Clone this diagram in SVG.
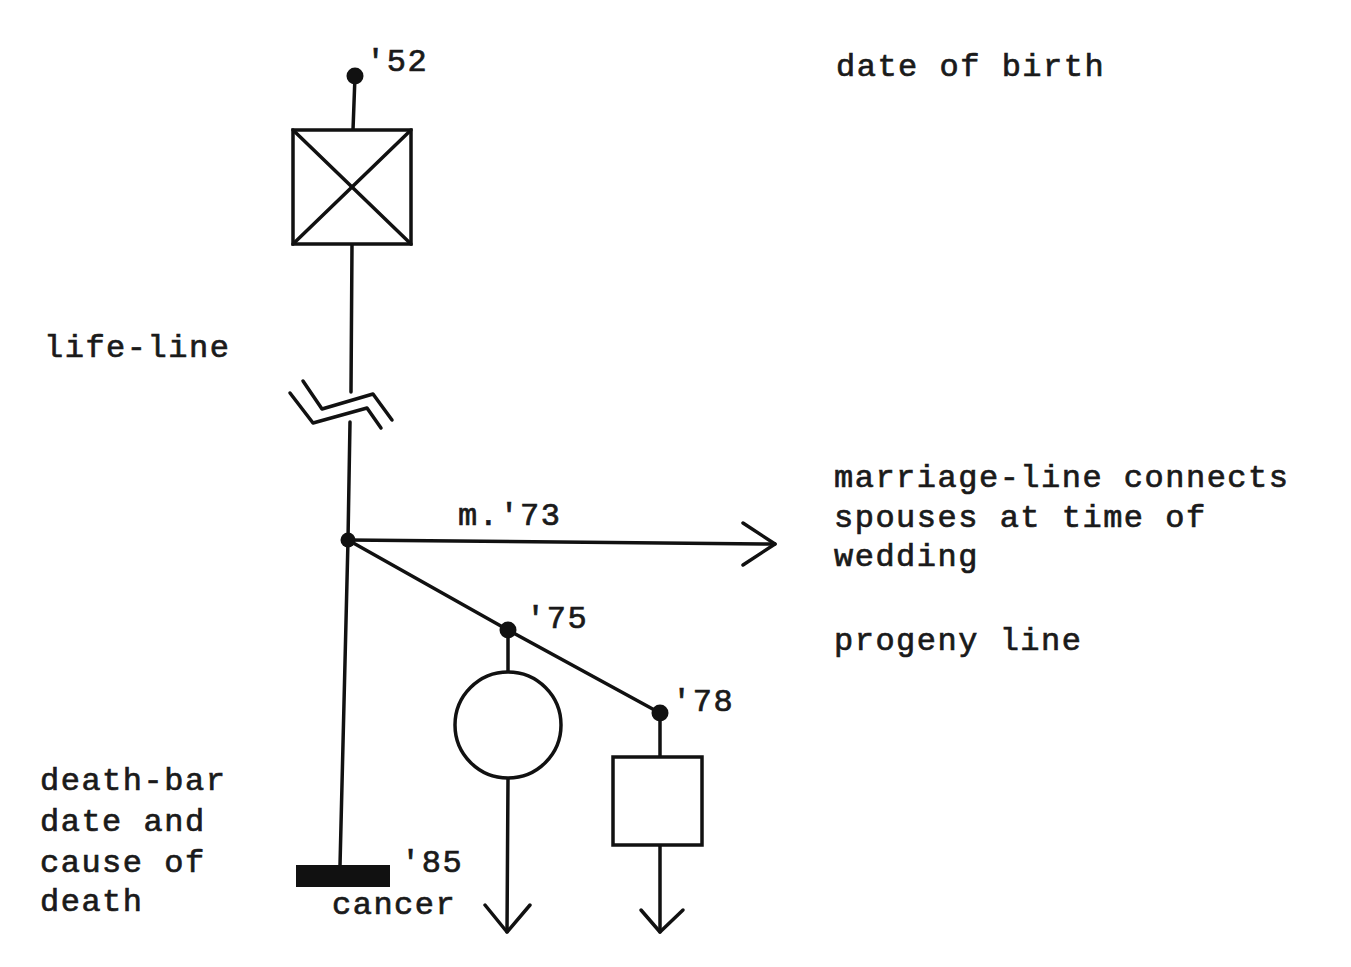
<svg xmlns="http://www.w3.org/2000/svg" width="1351" height="967" viewBox="0 0 1351 967">
<style>
.ln{stroke:#111;stroke-width:3.5;fill:none;stroke-linecap:round;stroke-linejoin:round}
.sh{stroke:#111;stroke-width:3.5;fill:#fff}
.dot{fill:#111}
text{font-family:"Liberation Mono","DejaVu Sans Mono",monospace;font-size:32px;fill:#1a1a1a;stroke:#1a1a1a;stroke-width:0.7px;letter-spacing:1.5px}
</style>
<rect width="1351" height="967" fill="#fff"/>
<g id="connectors">
  <line class="ln" x1="355" y1="76" x2="353" y2="130"/>
  <polyline class="ln" points="352,244 351,392"/>
  <polyline class="ln" points="350,422 348,540 340,866"/>
  <line class="ln" x1="348" y1="540" x2="775" y2="544"/>
  <polyline class="ln" points="743,523 775,544 743,565"/>
  <polyline class="ln" points="348,540 508,630 660,713"/>
  <line class="ln" x1="508" y1="630" x2="508" y2="672"/>
  <line class="ln" x1="508" y1="778" x2="507" y2="932"/>
  <polyline class="ln" points="485,905 507,932 530,905"/>
  <line class="ln" x1="660" y1="713" x2="660" y2="757"/>
  <line class="ln" x1="660" y1="845" x2="660" y2="932"/>
  <polyline class="ln" points="641,910 660,932 683,910"/>
</g>
<g id="break-symbol">
  <polyline class="ln" points="303,381 322,409 373,394 392,420"/>
  <polyline class="ln" points="290,393 313,423 367,408 381,428"/>
</g>
<g id="birth">
  <circle class="dot" cx="355" cy="76" r="8.5"/>
  <text x="366" y="71">'52</text>
</g>
<g id="deceased-male">
  <rect class="sh" x="293" y="130" width="118" height="114"/>
  <line class="ln" x1="293" y1="130" x2="411" y2="244"/>
  <line class="ln" x1="411" y1="130" x2="293" y2="244"/>
</g>
<g id="marriage">
  <circle class="dot" cx="348" cy="540" r="7.5"/>
  <text x="458" y="525">m.'73</text>
</g>
<g id="child-1975">
  <circle class="dot" cx="508" cy="630" r="8.5"/>
  <text x="526" y="628">'75</text>
  <circle class="sh" cx="508" cy="725" r="53"/>
</g>
<g id="child-1978">
  <circle class="dot" cx="660" cy="713" r="8.5"/>
  <text x="672" y="711">'78</text>
  <rect class="sh" x="613" y="757" width="89" height="88"/>
</g>
<g id="death">
  <rect class="dot" x="296" y="865" width="94" height="22"/>
  <text x="401" y="872">'85</text>
  <text x="332" y="914">cancer</text>
</g>
<g id="legend">
  <text x="836" y="76">date of birth</text>
  <text x="44" y="357">life-line</text>
  <text x="834" y="487">marriage-line connects</text>
  <text x="834" y="527">spouses at time of</text>
  <text x="834" y="566">wedding</text>
  <text x="834" y="650">progeny line</text>
  <text x="40" y="790">death-bar</text>
  <text x="40" y="831">date and</text>
  <text x="40" y="872">cause of</text>
  <text x="40" y="911">death</text>
</g>
</svg>
